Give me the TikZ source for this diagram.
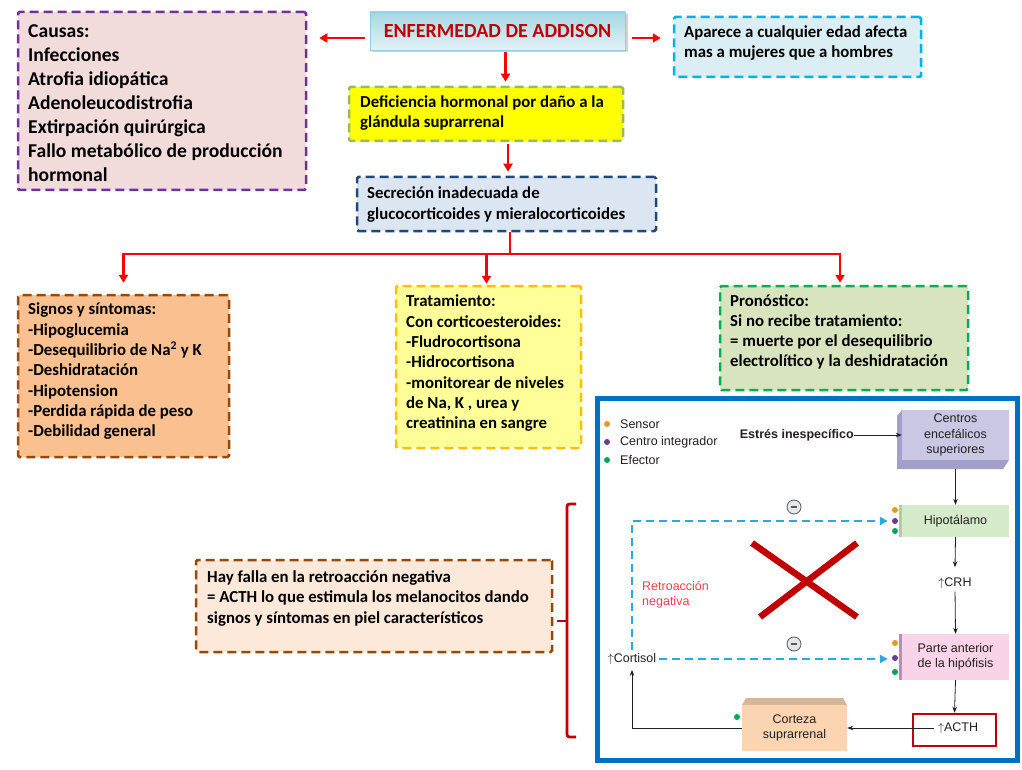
\documentclass[tikz,border=0pt]{standalone}
\usepackage{fontspec}
\setmainfont{Carlito}
\newfontfamily\figfont{Liberation Sans}
\usepackage{xcolor}
\definecolor{cArrow}{HTML}{FF0000}
\definecolor{cCross}{HTML}{C00000}
\definecolor{cCausaFill}{HTML}{F2DCDB}
\definecolor{cCausaLine}{HTML}{7030A0}
\definecolor{cTitTop}{HTML}{A5D6E3}
\definecolor{cTitBot}{HTML}{E3F2F7}
\definecolor{cTitLine}{HTML}{93CDDD}
\definecolor{cEdadFill}{HTML}{DAEEF3}
\definecolor{cEdadLine}{HTML}{00B0F0}
\definecolor{cDefFill}{HTML}{FFFF00}
\definecolor{cDefLine}{HTML}{9BBB59}
\definecolor{cSecFill}{HTML}{DCE6F2}
\definecolor{cSecLine}{HTML}{1F497D}
\definecolor{cSigFill}{HTML}{FAC090}
\definecolor{cBrown}{HTML}{984807}
\definecolor{cTraFill}{HTML}{FFFF99}
\definecolor{cTraLine}{HTML}{FFC000}
\definecolor{cProFill}{HTML}{D7E4BD}
\definecolor{cProLine}{HTML}{00B050}
\definecolor{cFalFill}{HTML}{FDE9D9}
\definecolor{cFrame}{HTML}{0070C0}
\definecolor{cFigText}{HTML}{231F20}
\definecolor{cFeedback}{HTML}{29ABE2}
\definecolor{cRetro}{HTML}{EF4050}
\definecolor{cSensor}{HTML}{E39B26}
\definecolor{cInteg}{HTML}{6C3A96}
\definecolor{cEfector}{HTML}{00A651}
\definecolor{cCentros}{HTML}{C9C7E4}
\definecolor{cCentrosSide}{HTML}{A29FCB}
\definecolor{cHipo}{HTML}{D5EBC9}
\definecolor{cHipoSide}{HTML}{AFCFA0}
\definecolor{cParte}{HTML}{F9D3E8}
\definecolor{cParteSide}{HTML}{B98DB4}
\definecolor{cCorteza}{HTML}{FBD5B2}
\definecolor{cCortezaTop}{HTML}{D8B597}
\definecolor{cInhibFill}{HTML}{E6E7E8}
\definecolor{cInhibLine}{HTML}{58595B}
\usepackage{tikz}
\usetikzlibrary{positioning,arrows.meta,fit,shadows}
\tikzset{
  node-box/.style={line width=2.5pt,dash pattern=on 9pt off 5pt,rounded corners=1.5pt,inner sep=0pt},
  node-purple/.style={draw=cCausaLine,fill=cCausaFill},
  node-cyan/.style={draw=cEdadLine,fill=cEdadFill},
  node-yellow/.style={draw=cDefLine,fill=cDefFill},
  node-navy/.style={draw=cSecLine,fill=cSecFill},
  node-orange/.style={draw=cBrown,fill=cSigFill},
  node-pale/.style={draw=cTraLine,fill=cTraFill},
  node-green/.style={draw=cProLine,fill=cProFill},
  node-peach/.style={draw=cBrown,fill=cFalFill},
  node-title/.style={draw=cTitLine,line width=0.8pt,top color=cTitTop,bottom color=cTitBot,
    drop shadow={shadow xshift=2.5pt,shadow yshift=-2.5pt,opacity=.35},
    font=\fontsize{20}{22}\selectfont\bfseries,text=cCross},
  txt-box/.style={anchor=north west,inner sep=0pt,align=left,font=\fontsize{16.8}{20.3}\selectfont\bfseries},
  txt-big/.style={txt-box,font=\fontsize{19.6}{24}\selectfont\bfseries},
  arrow-red/.style={-{Triangle[length=8pt,width=9pt]},line width=2.2pt,draw=cArrow},
  line-red/.style={line width=2.2pt,draw=cArrow},
  fig-text/.style={font=\figfont\fontsize{12.5}{15.5}\selectfont,inner sep=0pt,text=cFigText,align=center},
  fig-box/.style={fig-text,minimum width=107pt,inner sep=0pt},
  arrow-fig/.style={-{Stealth[length=6pt,width=4.5pt]},line width=0.8pt,draw=cFigText},
  arrow-feedback/.style={-{Triangle[length=8pt,width=8pt]},line width=2pt,draw=cFeedback,
    dash pattern=on 8pt off 5pt},
  node-inhib/.style={circle,draw=cInhibLine,fill=cInhibFill,line width=0.8pt,minimum size=14pt,inner sep=0pt},
}
\begin{document}
\begin{tikzpicture}[x=1pt,y=-1pt]
  \useasboundingbox (0,0) rectangle (1022,770);
  % mapa conceptual
  \node[node-title,minimum width=255pt,minimum height=38pt] (titulo) at (497.5,31) {ENFERMEDAD DE ADDISON};
  \node[node-box,node-purple,fit={(18,12) (306,190)}] (causas) {};
  \node[txt-big] (causas-txt) at (28,24) {Causas:\\Infecciones\\Atrofia idiopática\\Adenoleucodistrofia\\Extirpación quirúrgica\\Fallo metabólico de producción\\hormonal};
  \node[node-box,node-cyan,fit={(674,17) (921,77)}] (edad) {};
  \node[txt-box] (edad-txt) at (684,25.5) {Aparece a cualquier edad afecta\\mas a mujeres que a hombres};
  \node[node-box,node-yellow,fit={(349,87) (623,141)}] (defic) {};
  \node[txt-box] (defic-txt) at (360,95.5) {Deficiencia hormonal por daño a la\\glándula suprarrenal};
  \node[node-box,node-navy,fit={(357,177) (656,231)}] (secr) {};
  \node[txt-box] (secr-txt) at (367,187) {Secreción inadecuada de\\glucocorticoides y mieralocorticoides};
  \node[node-box,node-orange,fit={(18,295) (229,457)}] (signos) {};
  \node[txt-box] (signos-txt) at (28,303) {Signos y síntomas:\\-Hipoglucemia\\-Desequilibrio de Na\textsuperscript{2} y K\\-Deshidratación\\-Hipotension\\-Perdida rápida de peso\\-Debilidad general};
  \node[node-box,node-pale,fit={(396,286) (581,448)}] (trat) {};
  \node[txt-box] (trat-txt) at (406,295) {Tratamiento:\\Con corticoesteroides:\\-Fludrocortisona\\-Hidrocortisona\\-monitorear de niveles\\de Na, K , urea y\\creatinina en sangre};
  \node[node-box,node-green,fit={(720,286) (968,390)}] (pron) {};
  \node[txt-box] (pron-txt) at (730,294) {Pronóstico:\\Si no recibe tratamiento:\\= muerte por el desequilibrio\\electrolítico y la deshidratación};
  \node[node-box,node-peach,fit={(196,560) (552,652)}] (falla) {};
  \node[txt-box] (falla-txt) at (207,570.5) {Hay falla en la retroacción negativa\\= ACTH lo que estimula los melanocitos dando\\signos y síntomas en piel característicos};

  \draw[arrow-red,shorten <=5pt,shorten >=12pt] ([yshift=-7pt]titulo.west) -- ([yshift=-7pt]titulo.west -| causas.east);
  \draw[arrow-red,shorten <=7pt,shorten >=12pt] ([yshift=-7pt]titulo.east) -- ([yshift=-7pt]titulo.east -| edad.west);
  \draw[arrow-red,shorten <=2pt,shorten >=4pt] ([xshift=8pt]titulo.south) -- ([xshift=8pt]titulo.south |- defic.north);
  \draw[arrow-red,shorten <=2pt,shorten >=4pt] ([xshift=22pt]defic.south) -- ([xshift=22pt]defic.south |- secr.north);
  \coordinate (rama) at (510,254);
  \draw[line-red] (secr.south -| rama) -- (rama);
  \draw[arrow-red,shorten >=11pt] (rama) -| (signos.north);
  \draw[arrow-red,shorten >=1pt] (rama) -| ([xshift=-2pt]trat.north);
  \draw[arrow-red,shorten >=2pt] (rama) -| ([xshift=-4pt]pron.north);

  % llave
  \draw[cCross,line width=2.8pt,rounded corners=2.5pt] (576,504) -- (567,504) -- (567,737) -- (576,737);
  \draw[cCross,line width=2.8pt] (567,621) -- (557,621);

  % figura del eje
  \draw[cFrame,line width=5pt] (597.5,398.5) rectangle (1017.5,760.5);
  \foreach \y/\col/\lbl [count=\i] in {424/cSensor/Sensor,442/cInteg/Centro integrador,460/cEfector/Efector}{
    \fill[\col] (607,\y) circle (3pt);
    \node[fig-text,anchor=west] (leg-\i) at (620,\y) {\lbl};
  }
  \node[fig-text,anchor=east,font=\figfont\fontsize{12.5}{15}\selectfont\bfseries] (estres) at (854,435) {Estrés inespecífico};
  \fill[cCentrosSide] (902,410) -- (897,416) -- (897,469) -- (1003,469) -- (1009,460) -- (902,460) -- cycle;
  \node[fig-box,fill=cCentros,minimum height=50pt] (centros) at (955.5,435) {Centros\\encefálicos\\superiores};
  \node[fig-box,fill=cHipo,minimum height=32pt] (hipot) at (955.5,521) {Hipotálamo};
  \fill[cHipoSide] ([xshift=-3pt]hipot.north west) rectangle (hipot.south west);
  \node[fig-text] (crh) at (955,583) {$\uparrow$CRH};
  \node[fig-box,fill=cParte,minimum height=46pt] (parte) at (955.5,657) {Parte anterior\\de la hipófisis};
  \fill[cParteSide] ([xshift=-3pt]parte.north west) rectangle (parte.south west);
  \node[fig-text,inner xsep=4pt] (acth) at (958,728) {$\uparrow$ACTH};
  \node[draw=cCross,line width=2.5pt,inner sep=0pt,fit={(913,714) (996,746)}] (acth-box) {};
  \fill[cCortezaTop] (742,705) -- (746,698) -- (843,698) -- (847,705) -- cycle;
  \node[fig-box,fill=cCorteza,minimum width=105pt,minimum height=46pt] (corteza) at (794.5,728) {Corteza\\suprarrenal};
  \node[fig-text,inner sep=3pt] (cortisol) at (632,659) {$\uparrow$Cortisol};
  \node[fig-text,anchor=west,align=left,text=cRetro,font=\figfont\fontsize{12.5}{15}\selectfont] (retro) at (642,594.5) {Retroacción\\negativa};
  \foreach \y/\col in {510/cSensor,521/cInteg,531/cEfector,643/cSensor,658/cInteg,672/cEfector}{
    \fill[\col] (895,\y) circle (3pt);
  }
  \fill[cEfector] (737,717) circle (3pt);
  \node[node-inhib] (inhib-1) at (794,507) {\color{cInhibLine}\rule{6pt}{1.2pt}};
  \node[node-inhib] (inhib-2) at (794,644) {\color{cInhibLine}\rule{6pt}{1.2pt}};

  \draw[arrow-fig] (estres) -- (centros.west);
  \draw[arrow-fig] ([yshift=-9pt]centros.south) -- (hipot.north);
  \draw[arrow-fig] (hipot.south) -- ([yshift=10pt]crh.north);
  \draw[arrow-fig,shorten <=3pt] (crh.south) -- (parte.north);
  \draw[arrow-fig] (parte.south) -- (acth-box.north);
  \draw[arrow-fig] (acth.west) -- (corteza.east);
  \draw[arrow-fig,shorten >=2pt] (corteza.west) -| (cortisol.south);
  \draw[arrow-feedback] (cortisol.east) -- ([xshift=-14pt]parte.west |- cortisol.east);
  \draw[arrow-feedback] (cortisol.north) |- ([xshift=-14pt]hipot.west);

  % cruz roja
  \draw[cCross,line width=6.5pt] (752,543) -- (857,617) (857,543) -- (760,617);
\end{tikzpicture}
\end{document}
